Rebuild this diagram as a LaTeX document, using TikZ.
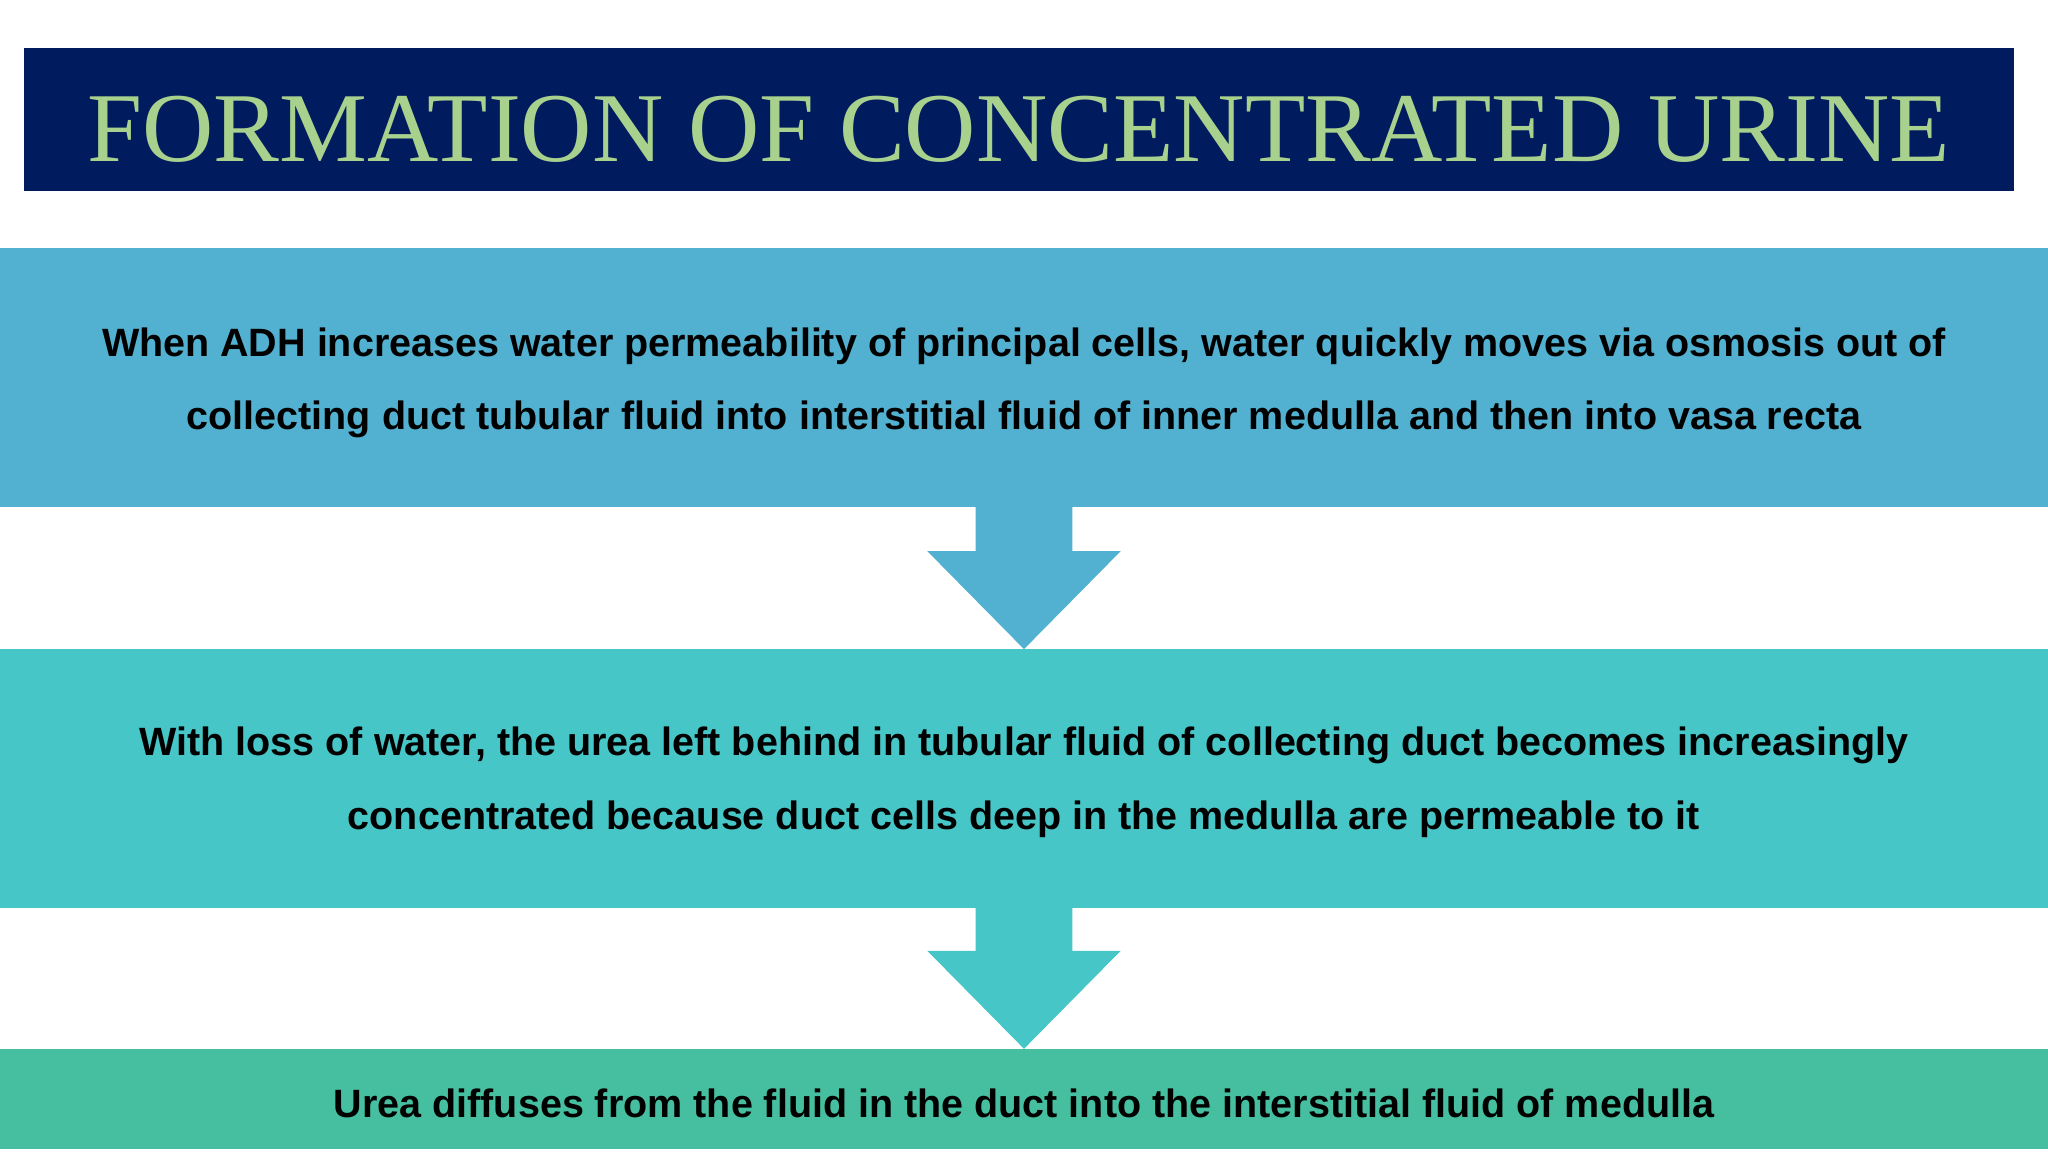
\documentclass[tikz,border=0pt]{standalone}
\usepackage{fontspec}
\setmainfont{Liberation Sans}
\newfontfamily\titlefont{Liberation Serif}
\definecolor{navy}{HTML}{001C5E}
\definecolor{tgreen}{HTML}{A9D18E}
\definecolor{cA}{HTML}{52B1D0}
\definecolor{cB}{HTML}{47C6C8}
\definecolor{cC}{HTML}{45BFA0}
\begin{document}
\begin{tikzpicture}[x=0.01cm,y=-0.01cm,
  txt/.style={font=\fontsize{8.6}{16}\selectfont\bfseries,align=center,text=black}]
\useasboundingbox[fill=white] (0,0) rectangle (1568,882);
\fill[navy] (18,37) rectangle (1542,146);
\node[font=\titlefont\fontsize{21.5}{24}\selectfont,text=tgreen] (title) at (780,99) {FORMATION OF CONCENTRATED URINE};
\fill[cA] (0,190) rectangle (1568,388);
\node[txt] (b1) at (784,293) {When ADH increases water permeability of principal cells, water quickly moves via osmosis out of\\collecting duct tubular fluid into interstitial fluid of inner medulla and then into vasa recta};
\fill[cA] (747,387) -- (821,387) -- (821,422) -- (858,422) -- (784,497) -- (710,422) -- (747,422) -- cycle;
\fill[cB] (0,497) rectangle (1568,695);
\node[txt] (b2) at (784,599) {With loss of water, the urea left behind in tubular fluid of collecting duct becomes increasingly\\concentrated because duct cells deep in the medulla are permeable to it};
\fill[cB] (747,694) -- (821,694) -- (821,728) -- (858,728) -- (784,803) -- (710,728) -- (747,728) -- cycle;
\fill[cC] (0,803) rectangle (1568,880);
\node[txt] (b3) at (784,845) {Urea diffuses from the fluid in the duct into the interstitial fluid of medulla};
\end{tikzpicture}
\end{document}
